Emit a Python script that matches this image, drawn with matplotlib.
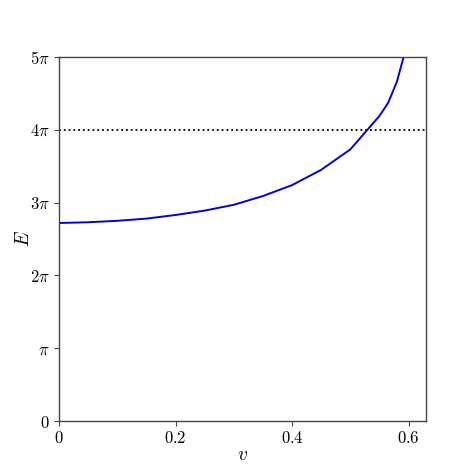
import numpy as np
import matplotlib
matplotlib.use("Agg")
import matplotlib.pyplot as plt

plt.rcParams['mathtext.fontset'] = 'cm'
plt.rcParams['font.family'] = 'serif'
plt.rcParams['font.serif'] = ['cmr10', 'DejaVu Serif']

v = [0.0, 0.05, 0.10, 0.15, 0.20, 0.25, 0.30, 0.35, 0.40, 0.45, 0.50, 0.55, 0.565, 0.58, 0.595]
E_over_pi = [2.72, 2.73, 2.75, 2.78, 2.83, 2.89, 2.97, 3.09, 3.24, 3.45, 3.73, 4.19, 4.37, 4.66, 5.10]
threshold_over_pi = 4.0
yticks_over_pi = [0, 1, 2, 3, 4, 5]
ytick_labels = [r'$0$', r'$\pi$', r'$2\pi$', r'$3\pi$', r'$4\pi$', r'$5\pi$']
xticks = [0, 0.2, 0.4, 0.6]
xtick_labels = [r'$0$', r'$0.2$', r'$0.4$', r'$0.6$']

fig = plt.figure(figsize=(4.74, 4.74), dpi=100)
ax = fig.add_axes([0.1245, 0.1118, 0.8987 - 0.1245, 0.8797 - 0.1118])

E = np.array(E_over_pi) * np.pi
ax.plot(v, E, color='#0000dd', lw=1.4)
ax.axhline(threshold_over_pi * np.pi, color='black', ls=':', lw=1.3)

ax.set_xlim(0, 0.63)
ax.set_ylim(0, 5 * np.pi)
ax.set_xticks(xticks)
ax.set_xticklabels(xtick_labels, fontsize=12)
ax.set_yticks(np.array(yticks_over_pi) * np.pi)
ax.set_yticklabels(ytick_labels, fontsize=12)
ax.set_xlabel(r'$v$', fontsize=14, labelpad=0)
ax.set_ylabel(r'$E$', fontsize=14, labelpad=-2)
for s in ax.spines.values():
    s.set_color('#444444')
    s.set_linewidth(1.0)
ax.tick_params(color='#444444', length=3.5, width=0.8, pad=3)

fig.savefig('out.png', dpi=100)
